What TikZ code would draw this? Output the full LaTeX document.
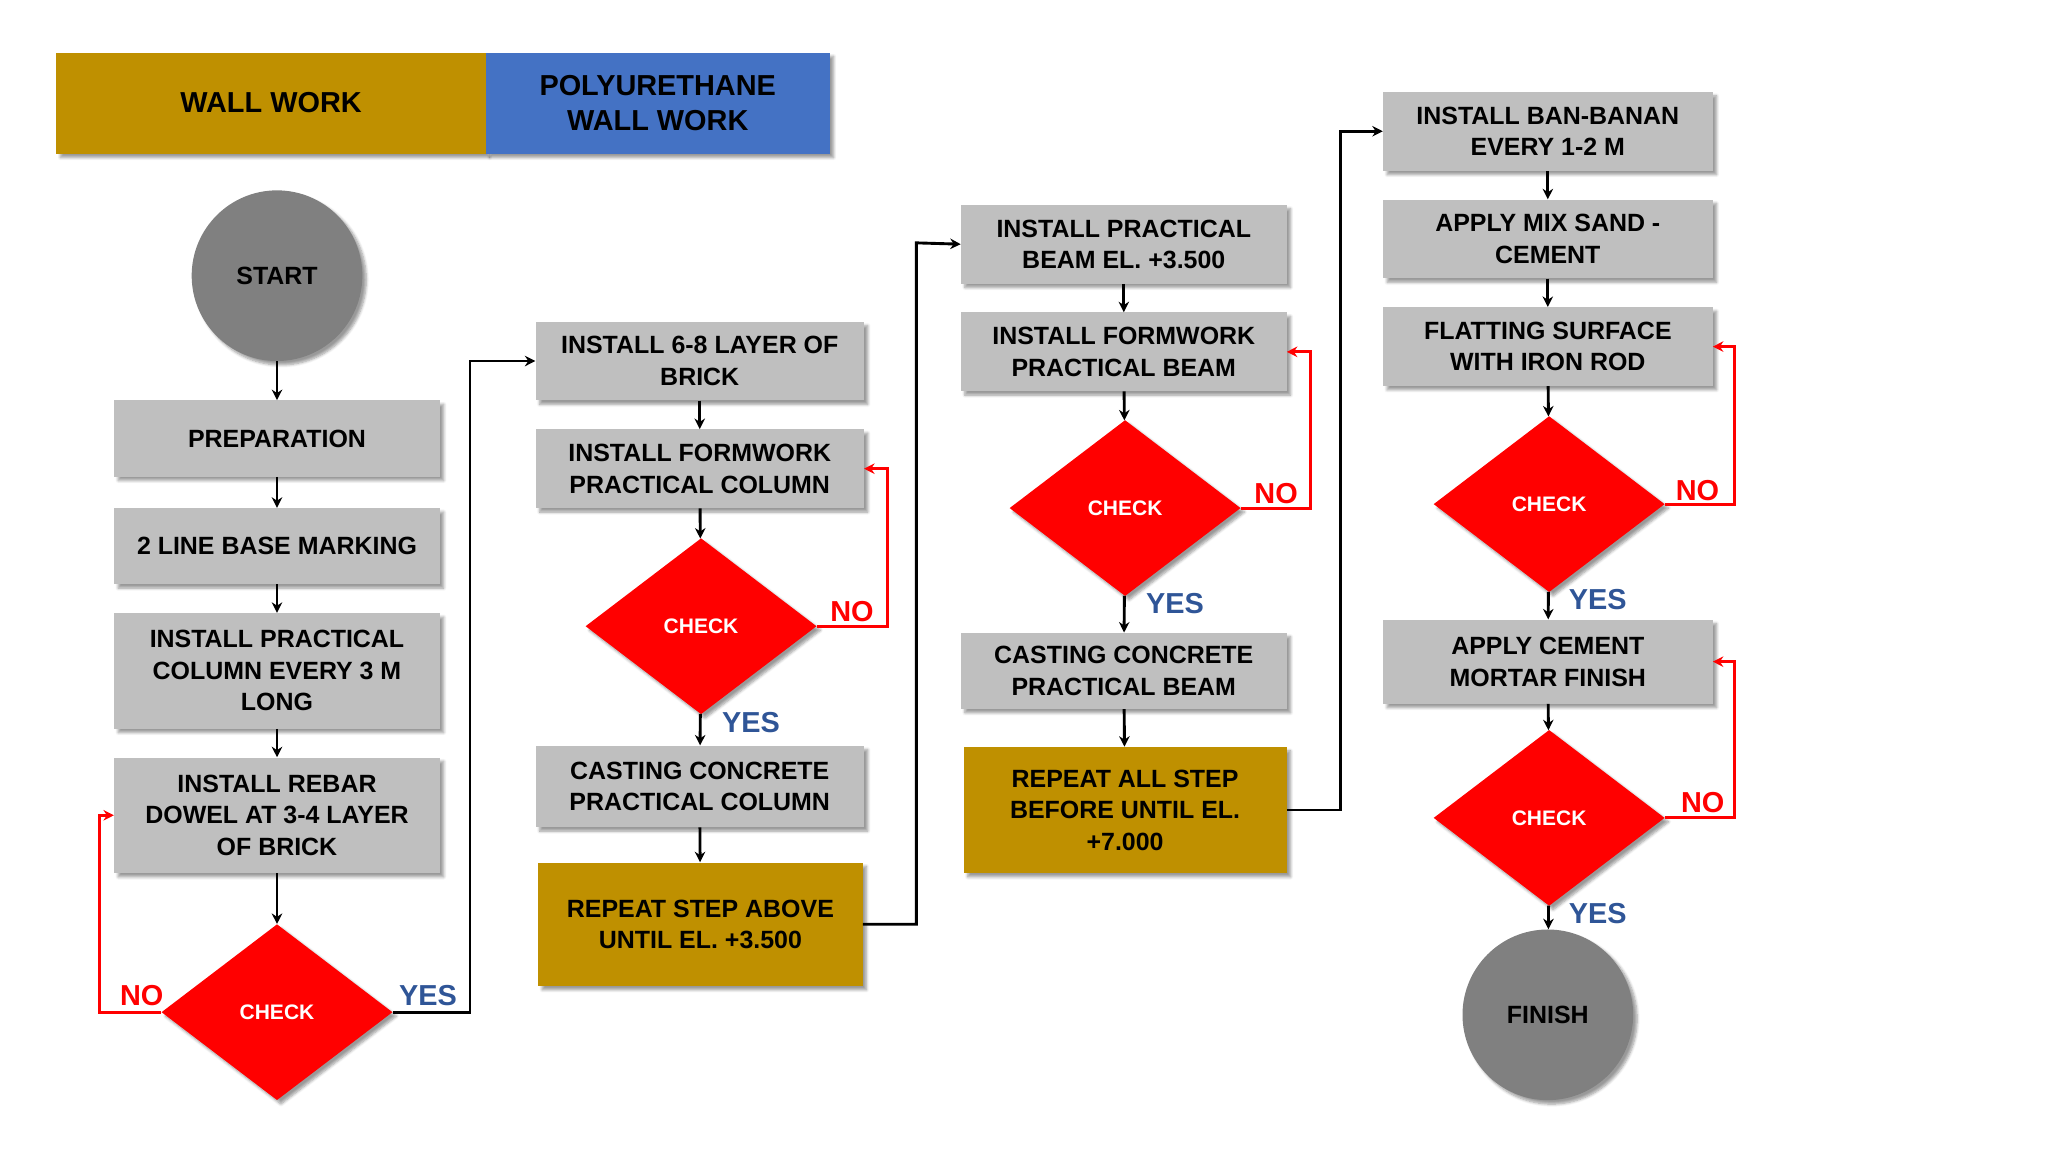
\documentclass[tikz,border=0pt]{standalone}
\usepackage{fontspec}
\setmainfont{Liberation Sans}
\usetikzlibrary{shapes.geometric,arrows.meta,shadows.blur}
\definecolor{gold}{HTML}{BF9000}
\definecolor{pblue}{HTML}{4472C4}
\definecolor{boxgray}{HTML}{BFBFBF}
\definecolor{circgray}{HTML}{808080}
\definecolor{yesblue}{HTML}{2F5597}
\begin{document}
\begin{tikzpicture}[x=1pt,y=-1pt,
  shd/.style={blur shadow={shadow xshift=3pt,shadow yshift=-3pt,shadow blur steps=6,shadow opacity=40}},
  box/.style={rectangle,fill=boxgray,shd,minimum width=250pt,minimum height=60pt,align=center,font=\bfseries\fontsize{19}{24}\selectfont,text=black},
  gbox/.style={box,fill=gold},
  circ/.style={circle,fill=circgray,shd,minimum size=130pt,font=\bfseries\fontsize{19}{24}\selectfont},
  chk/.style={diamond,fill=red,shd,minimum width=176pt,minimum height=134pt,inner sep=0pt,text=white,font=\bfseries\fontsize{16}{20}\selectfont},
  ar/.style={draw=black,line width=2.2pt,-{Stealth[length=8pt,width=8pt]}},
  ln/.style={draw=black,line width=2.2pt},
  nar/.style={draw=red,line width=2.2pt,-{Stealth[length=8pt,width=8pt]}},
  nolab/.style={text=red,font=\bfseries\fontsize{22}{26}\selectfont},
  yeslab/.style={text=yesblue,font=\bfseries\fontsize{22}{26}\selectfont}]
\useasboundingbox (0,0) rectangle (1560,877.5);
% legend
\node[box,fill=gold,minimum width=327pt,minimum height=77pt,font=\bfseries\fontsize{22}{26}\selectfont] (lw) at (206.5,78.5) {WALL WORK};
\node[box,fill=pblue,minimum width=262pt,minimum height=77pt,font=\bfseries\fontsize{22}{26}\selectfont] (lp) at (501,78.5) {POLYURETHANE\\WALL WORK};
% column 1
\node[circ] (start) at (211,210) {START};
\node[box,minimum width=248pt,minimum height=58pt] (prep) at (211,334) {PREPARATION};
\node[box,minimum width=248pt,minimum height=58pt] (mark) at (211,416) {2 LINE BASE MARKING};
\node[box,minimum width=248pt,minimum height=88pt] (col) at (211,511) {INSTALL PRACTICAL\\COLUMN EVERY 3 M\\LONG};
\node[box,minimum width=248pt,minimum height=88pt] (rebar) at (211,621) {INSTALL REBAR\\DOWEL AT 3-4 LAYER\\OF BRICK};
\node[chk] (c1) at (211,771) {CHECK};
\draw[ar] (start) -- (prep);
\draw[ar] (prep) -- (mark);
\draw[ar] (mark) -- (col);
\draw[ar] (col) -- (rebar);
\draw[ar] (rebar) -- (c1);
\draw[nar] (c1.west) -| (76,621) -- (rebar.west);
\node[nolab] at (108,758) {NO};
\node[yeslab] at (326,758) {YES};
% column 2
\node[box] (brick) at (533,275) {INSTALL 6-8 LAYER OF\\BRICK};
\node[box] (fcol) at (533,357) {INSTALL FORMWORK\\PRACTICAL COLUMN};
\node[chk] (c2) at (534,477) {CHECK};
\node[box,minimum height=62pt] (ccol) at (533,599) {CASTING CONCRETE\\PRACTICAL COLUMN};
\node[gbox,minimum width=247pt,minimum height=94pt] (rep1) at (533.5,704) {REPEAT STEP ABOVE\\UNTIL EL. +3.500};
\draw[ar] (c1.east) -| (358,275) -- (brick.west);
\draw[ar] (brick) -- (fcol);
\draw[ar] (fcol) -- (c2);
\draw[nar] (c2.east) -| (676,357) -- (fcol.east);
\node[nolab] at (649,466) {NO};
\draw[ar] (c2) -- (ccol);
\node[yeslab] at (572,550) {YES};
\draw[ar] (ccol) -- (rep1);
% column 3
\node[box,minimum width=248pt] (beam) at (856,186) {INSTALL PRACTICAL\\BEAM EL. +3.500};
\node[box,minimum width=248pt] (fbeam) at (856,268) {INSTALL FORMWORK\\PRACTICAL BEAM};
\node[chk] (c3) at (857,387) {CHECK};
\node[box,minimum width=248pt,minimum height=58pt] (cbeam) at (856,511) {CASTING CONCRETE\\PRACTICAL BEAM};
\node[gbox,minimum width=246pt,minimum height=96pt] (rep2) at (857,617) {REPEAT ALL STEP\\BEFORE UNTIL EL.\\+7.000};
\draw[ar] (rep1.east) -| (698,185) -- (beam.west);
\draw[ar] (beam) -- (fbeam);
\draw[ar] (fbeam) -- (c3);
\draw[nar] (c3.east) -| (998,268) -- (fbeam.east);
\node[nolab] at (972,376) {NO};
\draw[ar] (c3) -- (cbeam);
\node[yeslab] at (895,460) {YES};
\draw[ar] (cbeam) -- (rep2);
% column 4
\node[box,minimum width=251pt] (ban) at (1179,100) {INSTALL BAN-BANAN\\EVERY 1-2 M};
\node[box,minimum width=251pt] (mix) at (1179,182) {APPLY MIX SAND -\\CEMENT};
\node[box,minimum width=251pt] (flat) at (1179,264) {FLATTING SURFACE\\WITH IRON ROD};
\node[chk] (c4) at (1180,384) {CHECK};
\node[box,minimum width=251pt,minimum height=64pt] (mort) at (1179,504) {APPLY CEMENT\\MORTAR FINISH};
\node[chk] (c5) at (1180,623) {CHECK};
\node[circ] (fin) at (1179,773) {FINISH};
\draw[ar] (rep2.east) -| (1021,100) -- (ban.west);
\draw[ar] (ban) -- (mix);
\draw[ar] (mix) -- (flat);
\draw[ar] (flat) -- (c4);
\draw[nar] (c4.east) -| (1321,264) -- (flat.east);
\node[nolab] at (1293,374) {NO};
\draw[ar] (c4) -- (mort);
\node[yeslab] at (1217,457) {YES};
\draw[ar] (mort) -- (c5);
\draw[nar] (c5.east) -| (1321,504) -- (mort.east);
\node[nolab] at (1297,611) {NO};
\draw[ar] (c5) -- (fin);
\node[yeslab] at (1217,696) {YES};
\end{tikzpicture}
\end{document}
